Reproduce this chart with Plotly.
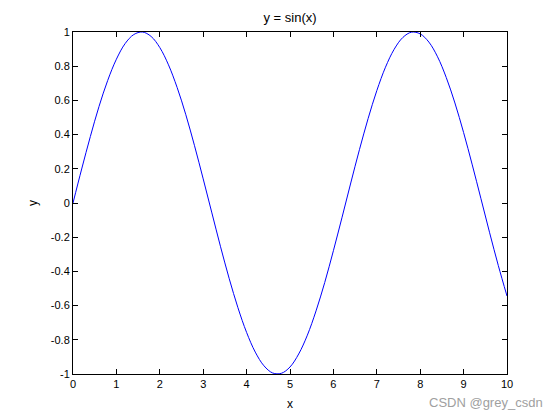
import plotly.graph_objects as go

x_vals = [0.0, 0.2, 0.4, 0.6, 0.8, 1.0, 1.2, 1.4, 1.6, 1.8, 2.0, 2.2, 2.4, 2.6, 2.8, 3.0,
          3.2, 3.4, 3.6, 3.8, 4.0, 4.2, 4.4, 4.6, 4.8, 5.0, 5.2, 5.4, 5.6, 5.8, 6.0,
          6.2, 6.4, 6.6, 6.8, 7.0, 7.2, 7.4, 7.6, 7.8, 8.0, 8.2, 8.4, 8.6, 8.8, 9.0,
          9.2, 9.4, 9.6, 9.8, 10.0]
y_vals = [0.0, 0.199, 0.389, 0.565, 0.717, 0.841, 0.932, 0.985, 1.000, 0.974, 0.909,
          0.808, 0.675, 0.516, 0.335, 0.141, -0.058, -0.256, -0.443, -0.612, -0.757,
          -0.872, -0.952, -0.994, -0.996, -0.959, -0.883, -0.773, -0.631, -0.465, -0.279,
          -0.083, 0.117, 0.312, 0.494, 0.657, 0.794, 0.899, 0.968, 0.999, 0.989,
          0.941, 0.855, 0.734, 0.585, 0.412, 0.223, 0.025, -0.174, -0.366, -0.544]

x_ticks = [0, 1, 2, 3, 4, 5, 6, 7, 8, 9, 10]
x_ticklabels = ["0", "1", "2", "3", "4", "5", "6", "7", "8", "9", "10"]
y_ticks = [-1, -0.8, -0.6, -0.4, -0.2, 0, 0.2, 0.4, 0.6, 0.8, 1]
y_ticklabels = ["-1", "-0.8", "-0.6", "-0.4", "-0.2", "0", "0.2", "0.4", "0.6", "0.8", "1"]

fig = go.Figure()
fig.add_trace(go.Scatter(x=x_vals, y=y_vals, mode="lines",
                         line=dict(color="#0000ff", width=1, shape="spline"),
                         showlegend=False))

axis_common = dict(showgrid=False, zeroline=False, showline=True, linecolor="black",
                   linewidth=1, mirror="ticks", ticks="inside", ticklen=5,
                   tickcolor="black", tickwidth=1,
                   tickfont=dict(family="Liberation Sans, Arial", size=11, color="black"))

fig.update_layout(
    width=560, height=420,
    margin=dict(l=73, r=53, t=32, b=46),
    paper_bgcolor="white", plot_bgcolor="white",
    title=dict(text="y = sin(x)", x=0.5, xref="paper", xanchor="center",
               y=1 - 17/420, yanchor="middle",
               font=dict(family="Liberation Sans, Arial", size=13, color="black")),
    xaxis=dict(range=[0, 10], tickvals=x_ticks, ticktext=x_ticklabels,
               title=dict(text="x", standoff=10,
                          font=dict(family="Liberation Sans, Arial", size=12, color="black")),
               **axis_common),
    yaxis=dict(range=[-1, 1], tickvals=y_ticks, ticktext=y_ticklabels,
               title=dict(text="y", standoff=10,
                          font=dict(family="Liberation Sans, Arial", size=12, color="black")),
               **axis_common),
    annotations=[dict(text="CSDN @grey_csdn", xref="paper", yref="paper",
                      x=(545 - 73) / 434, y=-(402 - 374) / 342,
                      xanchor="right", yanchor="middle", showarrow=False,
                      font=dict(family="Liberation Sans, Arial", size=13, color="#a0a0a0"))],
)

fig.write_html("out.html", config={"displayModeBar": False},
               post_script="document.body.style.margin='0';document.body.style.padding='0';")
